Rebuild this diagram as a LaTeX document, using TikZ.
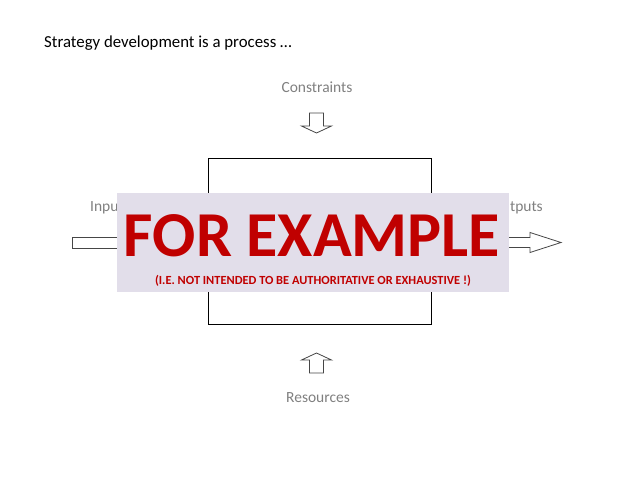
\documentclass[tikz,border=0pt]{standalone}
\usepackage{fontspec}
\setmainfont{Carlito}
\definecolor{lbl}{RGB}{128,128,128}
\definecolor{exred}{RGB}{192,0,0}
\definecolor{exfill}{RGB}{226,222,234}
\definecolor{arr}{RGB}{70,70,70}
\begin{document}
\begin{tikzpicture}[x=1pt,y=-1pt,
  lab/.style={text=lbl,font=\fontsize{15.5}{18}\selectfont,inner sep=0pt},
  blockarrow/.style={draw=arr,line width=0.8pt,fill=white,line join=miter}]
\useasboundingbox (0,0) rectangle (638,478);
\node[anchor=base west,inner sep=0pt,font=\fontsize{16.8}{19}\selectfont] (title) at (44,48) {Strategy development is a process …};
\node[lab] (cons) at (317,87) {Constraints};
\node[lab] (res) at (318,398) {Resources};
\node[lab,anchor=base west] (inp) at (90,212) {Inputs};
\node[lab,anchor=base east] (outp) at (543,212) {Outputs};
\node[draw=black,line width=0.8pt,minimum width=223pt,minimum height=166pt,inner sep=0pt] (proc) at (319.5,241) {};
% constraints arrow (down)
\draw[blockarrow] (309.5,113) -- (323.5,113) -- (323.5,126) -- (331.5,126) -- (316.5,133) -- (301.5,126) -- (309.5,126) -- cycle;
% resources arrow (up)
\draw[blockarrow] (309.5,373) -- (323.5,373) -- (323.5,360) -- (331.5,360) -- (316.5,353) -- (301.5,360) -- (309.5,360) -- cycle;
% input arrow
\draw[blockarrow] (72,237.5) -- (proc.west |- 0,237.5) -- (proc.west |- 0,248.5) -- (72,248.5) -- cycle;
% output arrow
\draw[blockarrow] (proc.east |- 0,237.5) -- (530,237.5) -- (530,232.5) -- (561,242.5) -- (530,252.5) -- (530,247.5) -- (proc.east |- 0,247.5) -- cycle;
% for example overlay
\node[fill=exfill,minimum width=392pt,minimum height=99pt,inner sep=0pt] (ex) at (313,242.5) {};
\node[text=exred,font=\bfseries\fontsize{64}{64}\selectfont,inner sep=0pt,anchor=base] (extitle) at (312,257) {FOR EXAMPLE};
\node[text=exred,font=\bfseries\fontsize{12.4}{14}\selectfont,inner sep=0pt,anchor=base] (exsub) at (313,285) {(I.E. NOT INTENDED TO BE AUTHORITATIVE OR EXHAUSTIVE !)};
\end{tikzpicture}
\end{document}
